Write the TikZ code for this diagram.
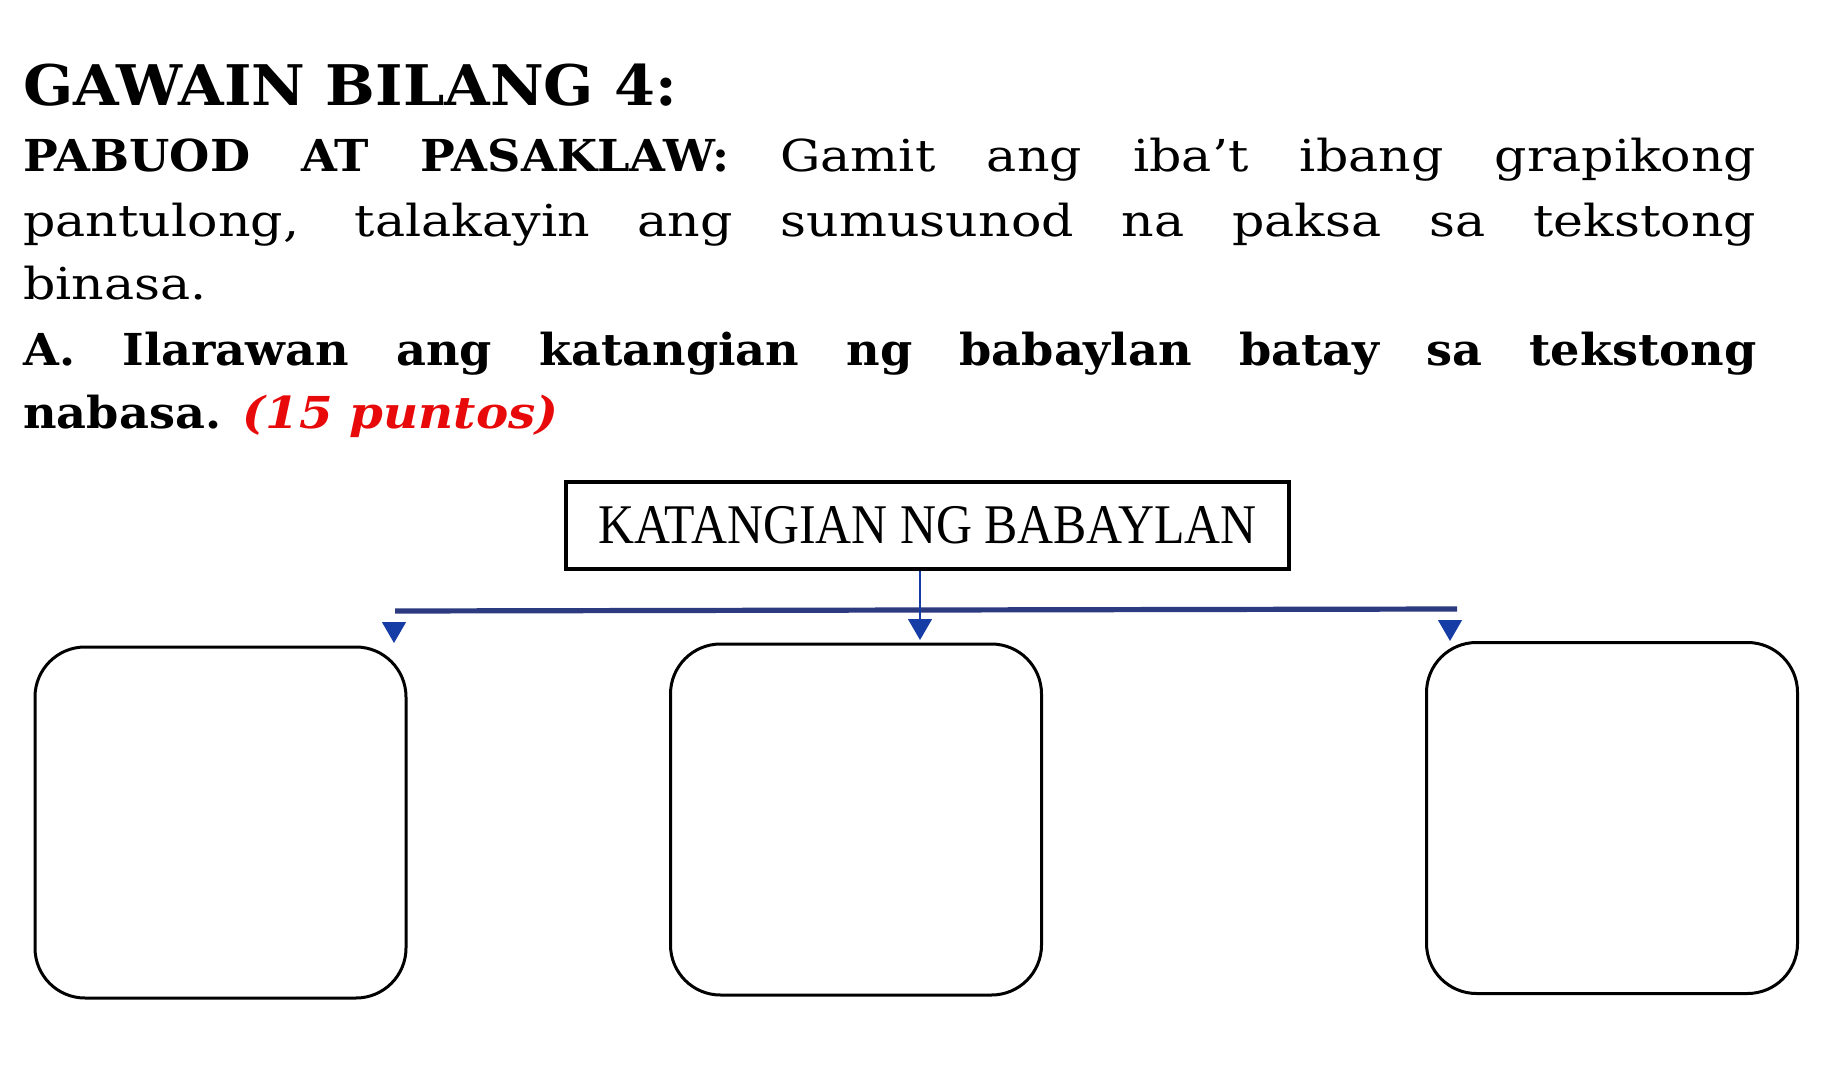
\documentclass[tikz,border=0pt]{standalone}
\usepackage{fontspec}
\setmainfont{DejaVu Serif}[
  UprightFeatures={FakeStretch=1.15},
  BoldFeatures={FakeStretch=1.05},
  BoldItalicFeatures={FakeStretch=1.1}]
\newfontfamily\boxfont{Liberation Serif}
\usepackage{tikz}
\usetikzlibrary{arrows.meta,calc}

\definecolor{navyline}{RGB}{44,58,128}
\definecolor{tipblue}{RGB}{22,60,165}
\definecolor{feedblue}{RGB}{70,110,190}
\definecolor{ptsred}{RGB}{232,10,10}

\tikzset{
  body line/.style={anchor=base west, inner sep=0pt, font=\fontsize{22}{26}\selectfont},
  title line/.style={anchor=base west, inner sep=0pt, font=\fontsize{28}{32}\selectfont\bfseries},
  head box/.style={draw, line width=1.8pt, minimum width=361.5pt, minimum height=43.5pt, inner sep=0pt,
    font=\boxfont\fontsize{28}{30}\selectfont},
  answer box/.style={draw, line width=1.5pt, rounded corners=25pt, minimum width=185.5pt,
    minimum height=175.5pt, inner sep=0pt},
  branch line/.style={draw=navyline, line width=2.6pt},
  feed arrow/.style={draw=feedblue, line width=0.6pt, -{Triangle[width=12pt,length=10.5pt]}, tipblue}
}

\newcommand{\fullline}[1]{\makebox[866.5pt][s]{#1}}

\begin{document}
\begin{tikzpicture}[x=0.5pt, y=-0.5pt]
      \useasboundingbox (0,0) rectangle (1829,1080);

      \node [title line] (title) at (23,106) {GAWAIN BILANG 4:};

      \node [body line] (line-1) at (23,172)
        {\fullline{\textbf{PABUOD AT PASAKLAW:} Gamit ang iba’t ibang grapikong}};
      \node [body line] (line-2) at (23,237)
        {\fullline{pantulong, talakayin ang sumusunod na paksa sa tekstong}};
      \node [body line] (line-3) at (23,300) {binasa.};
      \node [body line] (line-4) at (23,365)
        {\fullline{\textbf{A. Ilarawan ang katangian ng babaylan batay sa tekstong}}};
      \node [body line] (line-5) at (23,428)
        {\textbf{nabasa.} {\color{ptsred}\bfseries\itshape(15 puntos)}};

      \node [head box] (head) at (927.5,525.5) {\scalebox{0.89}[1]{KATANGIAN NG BABAYLAN}};

      \foreach \x/\y [count=\i] in {220.5/822.5, 856/819.5, 1612/818}
      \node [answer box] (box-\i) at (\x,\y) {};

      \coordinate (branch-l) at (395,611);
      \coordinate (branch-r) at (1457,609);
      \draw [branch line] (branch-l) -- (branch-r);

      \foreach \x/\y [count=\i] in {394/643, 920/640, 1450/641}
      \coordinate (tip-\i) at (\x,\y);

      \draw [feed arrow] (head.south -| tip-2) -- (tip-2);
      \foreach \i in {1,3}
      \draw [feed arrow] ($(tip-\i)+(0,-21)$) -- (tip-\i);

\end{tikzpicture}
\end{document}
